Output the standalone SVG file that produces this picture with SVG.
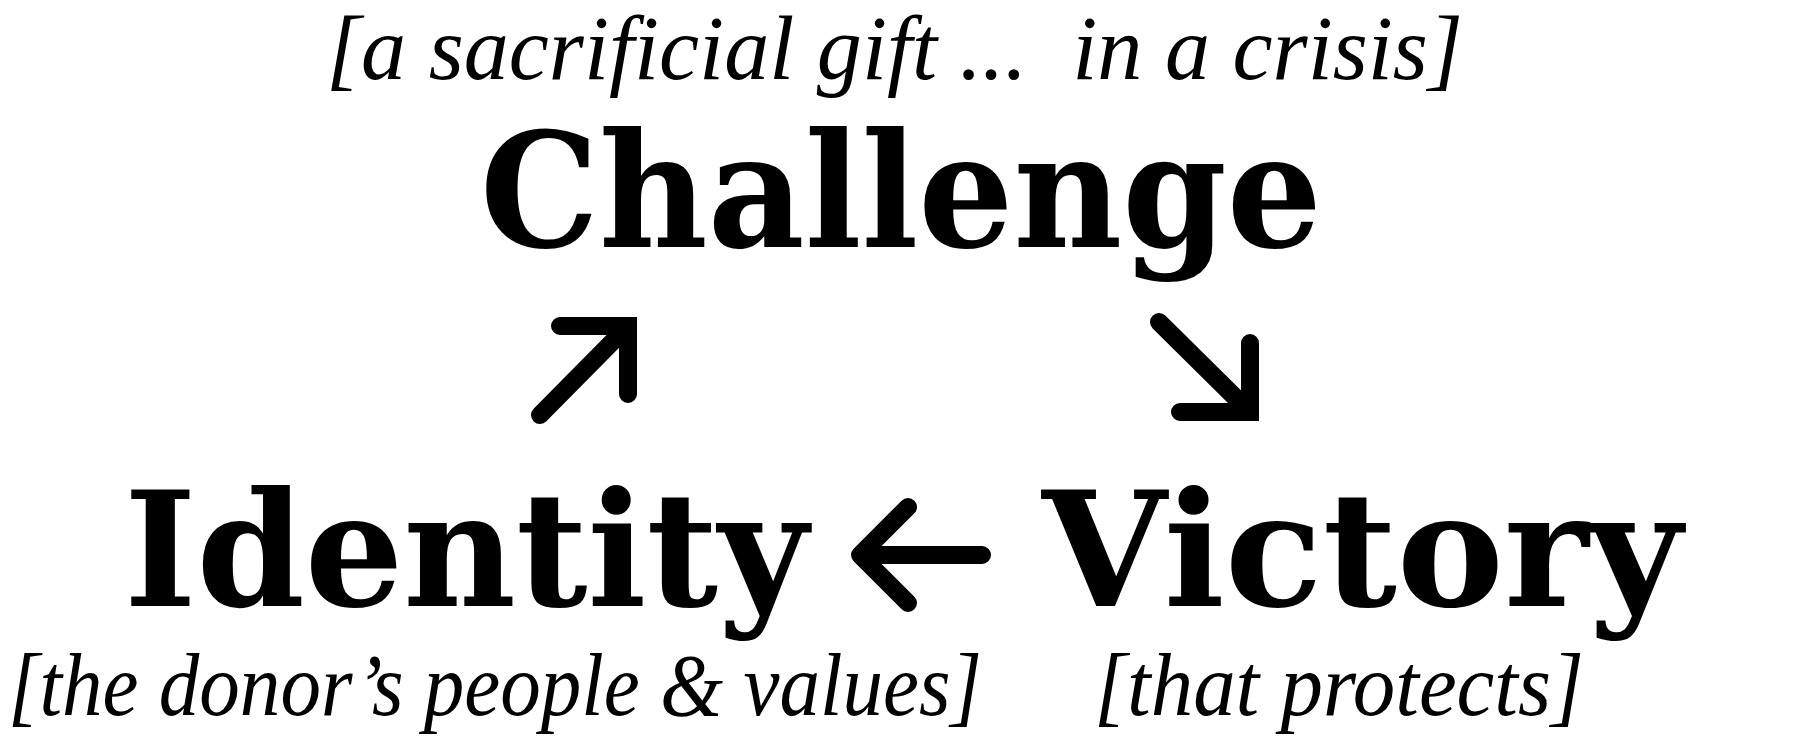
<svg xmlns="http://www.w3.org/2000/svg" width="1800" height="750" viewBox="0 0 1800 750">
<style>
.bold{font-family:"DejaVu Serif","Liberation Serif",serif;font-weight:bold;font-size:160px;fill:#000}
.ital{font-family:"Liberation Serif","DejaVu Serif",serif;font-style:italic;fill:#000}
.arr{fill:none;stroke:#000;stroke-width:18;stroke-linecap:round;stroke-linejoin:miter}
.arrR{stroke-linejoin:round}
</style>
<rect width="1800" height="750" fill="#fff"/>
<g id="challenge">
<text class="ital" x="326" y="79" font-size="92" textLength="1137" lengthAdjust="spacingAndGlyphs" xml:space="preserve">[a sacrificial gift ...  in a crisis]</text>
<text class="bold" x="480" y="247" textLength="842" lengthAdjust="spacingAndGlyphs">Challenge</text>
</g>
<g id="identity">
<text class="bold" x="124" y="606" textLength="684" lengthAdjust="spacingAndGlyphs">Identity</text>
<text class="ital" x="8" y="715" font-size="88" textLength="974" lengthAdjust="spacingAndGlyphs">[the donor’s people &amp; values]</text>
</g>
<g id="victory">
<text class="bold" x="1042" y="606" textLength="640" lengthAdjust="spacingAndGlyphs">Victory</text>
<text class="ital" x="1094" y="715" font-size="88" textLength="490" lengthAdjust="spacingAndGlyphs">[that protects]</text>
</g>
<g id="connectors">
<path class="arr" d="M540,415 L628,326 M560,326 H628 V394"/>
<path class="arr" d="M1159,322 L1250,412 M1180,412 H1250 V343"/>
<path class="arr arrR" d="M982,555 H860 M908,507 L860,555 L908,603"/>
</g>
</svg>
